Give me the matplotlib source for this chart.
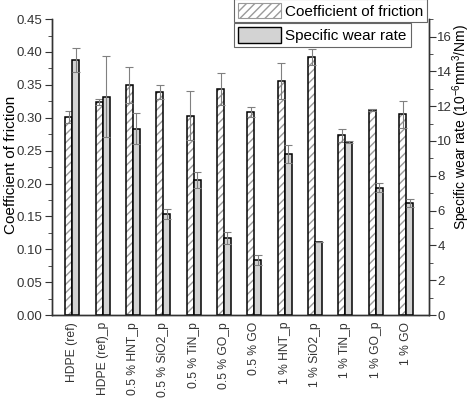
import numpy as np
import matplotlib.pyplot as plt
from matplotlib.patches import Patch
from matplotlib.ticker import MultipleLocator

plt.rcParams['font.family'] = ['Liberation Sans', 'DejaVu Sans']
plt.rcParams['mathtext.fontset'] = 'custom'
plt.rcParams['mathtext.rm'] = 'Liberation Sans'

samples = ["HDPE (ref)", "HDPE (ref)_p", "0.5 % HNT_p", "0.5 % SiO2_p", "0.5 % TiN_p",
           "0.5 % GO_p", "0.5 % GO", "1 % HNT_p", "1 % SiO2_p", "1 % TiN_p", "1 % GO_p", "1 % GO"]
cof = [0.301, 0.324, 0.350, 0.339, 0.303, 0.344, 0.309, 0.356, 0.392, 0.273, 0.312, 0.305]
cof_err = [0.009, 0.005, 0.027, 0.011, 0.037, 0.024, 0.008, 0.028, 0.012, 0.010, 0.002, 0.020]
wear = [14.66, 12.55, 10.7, 5.8, 7.74, 4.44, 3.16, 9.24, 4.21, 9.96, 7.32, 6.42]
wear_err = [0.7, 2.35, 0.9, 0.3, 0.45, 0.35, 0.27, 0.5, 0.0, 0.06, 0.25, 0.23]

txt = '#333333'
x = np.arange(len(samples))
w = 0.23

fig = plt.figure(figsize=(4.74, 3.98), dpi=100)
ax = fig.add_axes([0.110, 0.2085, 0.795, 0.7435])
ax2 = ax.twinx()

# friction: hatched bars, gray hatch + black outline
ax.bar(x - w / 2, cof, w, color='white', edgecolor='#9a9a9a', hatch='////', linewidth=0)
ax.bar(x - w / 2, cof, w, fill=False, edgecolor='black', linewidth=1.1)
ax.errorbar(x - w / 2, cof, yerr=cof_err, fmt='none', ecolor='#808080', elinewidth=0.8,
            capsize=3, capthick=0.8)

# wear rate on right axis
ax2.bar(x + w / 2, wear, w, color='#d3d3d3', edgecolor='black', linewidth=1.1)
ax2.errorbar(x + w / 2, wear, yerr=wear_err, fmt='none', ecolor='#808080', elinewidth=0.8,
             capsize=3, capthick=0.8)

ax.set_xlim(-0.66, 11.75)
ax.set_ylim(0, 0.45)
ax2.set_ylim(0, 17)
ax.yaxis.set_minor_locator(MultipleLocator(0.025))
ax2.yaxis.set_major_locator(MultipleLocator(2))
ax2.yaxis.set_minor_locator(MultipleLocator(1))
ax.set_yticks(np.arange(0, 0.451, 0.05))
ax.set_yticklabels(['%.2f' % v for v in np.arange(0, 0.451, 0.05)])

ax.set_xticks(x)
ax.set_xticklabels(samples, rotation=90, color=txt, fontsize=8.7)
ax.tick_params(axis='x', length=0, pad=5)
ax.tick_params(axis='y', which='major', direction='out', length=5, labelsize=9.5, labelcolor=txt,
               color=txt, pad=2)
ax.tick_params(axis='y', which='minor', direction='out', length=3, color=txt)
ax2.tick_params(axis='y', which='major', direction='out', length=5, labelsize=9.5, labelcolor=txt,
                color=txt, pad=1)
ax2.tick_params(axis='y', which='minor', direction='out', length=3, color=txt)

for a in (ax, ax2):
    a.spines['top'].set_visible(False)
    for s in ('left', 'right', 'bottom'):
        a.spines[s].set_color(txt)
        a.spines[s].set_linewidth(1.0)

ax.set_ylabel('Coefficient of friction', fontsize=11, color='black')
ax2.set_ylabel('Specific wear rate (10$^{-6}$mm$^{3}$/Nm)', fontsize=10, color='black')
ax.yaxis.set_label_coords(-0.090, 0.507)
ax2.yaxis.set_label_coords(1.058, 0.635)

# two separate legend boxes, stacked
h1 = Patch(facecolor='white', edgecolor='#9a9a9a', hatch='////', linewidth=0.8)
h2 = Patch(facecolor='#d3d3d3', edgecolor='black', linewidth=1.0)
leg_kw = dict(loc='upper left', fontsize=11, fancybox=False, framealpha=1, edgecolor='#666666',
              borderpad=0.25, handlelength=2.8, handleheight=1.2, handletextpad=0.3,
              borderaxespad=0)
leg1 = fig.legend([h1], ['Coefficient of friction'], bbox_to_anchor=(0.494, 1.003), **leg_kw)
leg2 = fig.legend([h2], ['Specific wear rate'], bbox_to_anchor=(0.494, 0.942), **leg_kw)
leg1.get_frame().set_linewidth(0.8)
leg2.get_frame().set_linewidth(0.8)

fig.savefig('out.png', dpi=100)
